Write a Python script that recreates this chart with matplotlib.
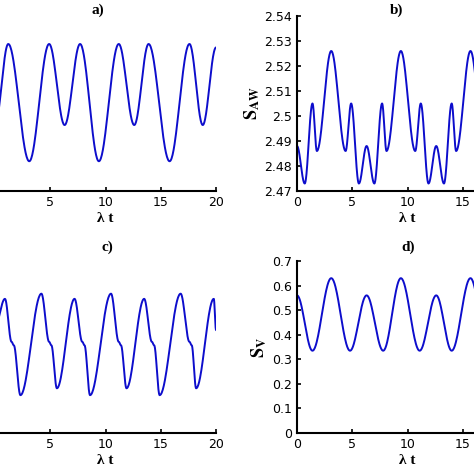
import numpy as np
import matplotlib
matplotlib.use("Agg")
import matplotlib.pyplot as plt

plt.rcParams['mathtext.fontset'] = 'stix'

# extrema (t, value)
a_t = [0, 1.2, 3.1, 4.9, 6.3, 7.7, 9.4, 11.2, 12.6, 13.9, 15.8, 17.6, 18.8, 20.0]
a_y = [0.38, 0.84, 0.17, 0.84, 0.377, 0.84, 0.17, 0.84, 0.377, 0.84, 0.17, 0.84, 0.377, 0.82]

b_t = [0, 0.7, 1.4, 1.8, 3.1, 4.4, 4.9, 5.6, 6.3, 7.0, 7.7, 8.1, 9.4, 10.7, 11.2,
       11.9, 12.6, 13.3, 14.0, 14.4, 15.7, 17.0, 17.5, 18.2, 18.9, 19.6, 20.0]
b_y = [2.488, 2.473, 2.505, 2.486, 2.526, 2.486, 2.505, 2.473, 2.488, 2.473, 2.505,
       2.486, 2.526, 2.486, 2.505, 2.473, 2.488, 2.473, 2.505, 2.486, 2.526, 2.486,
       2.505, 2.473, 2.488, 2.473, 2.49]

c_t = [0, 0.9, 1.5, 1.7, 2.3, 4.2, 4.9, 5.1, 5.6, 7.2, 7.9, 8.1, 8.6, 10.5, 11.2, 11.4,
       11.9, 13.5, 14.2, 14.4, 14.9, 16.8, 17.6, 17.8, 18.2, 19.8, 20.0]
c_y = [0.62, 0.78, 0.53, 0.51, 0.22, 0.81, 0.53, 0.51, 0.26, 0.78, 0.53, 0.51, 0.22,
       0.81, 0.53, 0.51, 0.26, 0.78, 0.53, 0.51, 0.22, 0.81, 0.53, 0.51, 0.26, 0.78, 0.6]

d_t = [0, 1.4, 3.1, 4.8, 6.3, 7.8, 9.4, 11.1, 12.6, 14.0, 15.7, 17.3, 18.9, 20.0]
d_y = [0.56, 0.335, 0.63, 0.335, 0.56, 0.335, 0.63, 0.335, 0.56, 0.335, 0.63, 0.335, 0.56, 0.37]

left_xticks = [5, 10, 15, 20]
right_xticks = [0, 5, 10, 15]


def smooth(t, y, n=40):
    xs, ys = [], []
    for i in range(len(t) - 1):
        s = np.linspace(0, 1, n, endpoint=False)
        w = (1 - np.cos(np.pi * s)) / 2
        xs.append(t[i] + (t[i + 1] - t[i]) * s)
        ys.append(y[i] + (y[i + 1] - y[i]) * w)
    xs.append([t[-1]]); ys.append([y[-1]])
    return np.concatenate(xs), np.concatenate(ys)


W = H = 474
fig = plt.figure(figsize=(4.74, 4.74), dpi=100)

def px_axes(x0, x1, ytop, ybot):
    return fig.add_axes([x0 / W, 1 - ybot / H, (x1 - x0) / W, (ybot - ytop) / H])

color = (0.05, 0.05, 0.8)
serif = ['Liberation Serif', 'DejaVu Serif']

panels = [
    (a_t, a_y, -5, 216, 16, 191, (0, 1), None, None, 'a)', 98, 10, left_xticks),
    (b_t, b_y, 297, 518, 16, 191, (2.47, 2.54), np.arange(2.47, 2.5401, 0.01), r'$\mathbf{S_{AW}}$', 'b)', 397, 10, right_xticks),
    (c_t, c_y, -5, 216, 261, 433, (0, 1), None, None, 'c)', 107, 247, left_xticks),
    (d_t, d_y, 297, 518, 261, 433, (0, 0.7), np.arange(0, 0.701, 0.1), r'$\mathbf{S_V}$', 'd)', 408, 247, right_xticks),
]

for t, y, x0, x1, yt, yb, ylim, yticks, ylab, title, tx, ty, xt in panels:
    ax = px_axes(x0, x1, yt, yb)
    xs, ys = smooth(t, y)
    ax.plot(xs, ys, color=color, lw=1.4)
    ax.set_xlim(0, 20)
    ax.set_ylim(*ylim)
    ax.set_xticks(xt)
    for s in ['top', 'right']:
        ax.spines[s].set_visible(False)
    for s in ['left', 'bottom']:
        ax.spines[s].set_linewidth(1.5)
    ax.tick_params(direction='in', length=3, width=1.2, labelsize=9)
    if yticks is not None:
        ax.set_yticks(yticks)
        ax.set_yticklabels([('%g' % round(v, 2)) for v in yticks])
        ax.set_ylabel(ylab, fontsize=13, labelpad=2)
    else:
        ax.set_yticks([])
    ax.set_xlabel('λ t', fontsize=11, fontweight='bold', family=serif, labelpad=2)
    fig.text(tx / W, 1 - ty / H, title, ha='center', va='center',
             fontsize=11, fontweight='bold', family=serif)

fig.savefig('out.png', dpi=100)
